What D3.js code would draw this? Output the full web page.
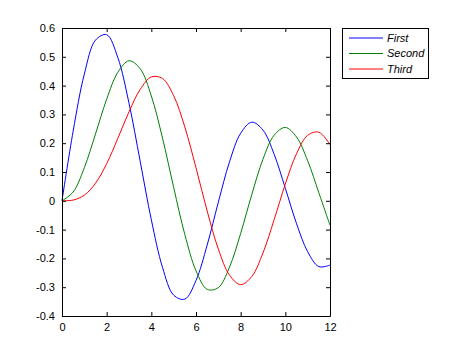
<!DOCTYPE html>
<html><head><meta charset="utf-8">
<script src="https://cdn.jsdelivr.net/npm/d3@7"></script>
<style>body{margin:0;background:#fff}svg{display:block}</style>
</head><body>
<script>
const xs = [0,0.5,1,1.5,2,2.5,3,3.5,4,4.5,5,5.5,6,6.5,7,7.5,8,8.5,9,9.5,10,10.5,11,11.5,12];
const first = [0,0.2423,0.4401,0.5579,0.5767,0.4971,0.3391,0.1374,-0.0660,-0.2311,-0.3276,-0.3414,-0.2767,-0.1538,-0.0047,0.1352,0.2346,0.2731,0.2453,0.1613,0.0435,-0.0789,-0.1768,-0.2284,-0.2234];
const second = [0,0.0306,0.1149,0.2321,0.3528,0.4461,0.4862,0.4586,0.3641,0.2178,0.0466,-0.1173,-0.2429,-0.3074,-0.3014,-0.2303,-0.1130,0.0223,0.1448,0.2279,0.2546,0.2216,0.1391,0.0280,-0.0849];
const third = [0,0.0026,0.0196,0.0610,0.1289,0.2167,0.3091,0.3867,0.4301,0.4247,0.3649,0.2561,0.1148,-0.0354,-0.1675,-0.2580,-0.2911,-0.2626,-0.1809,-0.0653,0.0583,0.1633,0.2274,0.2381,0.1951];
const seriesNames = ["First","Second","Third"];
const seriesColors = ["#0000ff","#008000","#ff0000"];
const xTicks = [0,2,4,6,8,10,12];
const yTicks = [-0.4,-0.3,-0.2,-0.1,0,0.1,0.2,0.3,0.4,0.5,0.6];

const W=474,H=355, L=62,R=330,T=28,B=316;
const svg=d3.select("body").append("svg").attr("width",W).attr("height",H);
const x=d3.scaleLinear().domain([0,12]).range([L,R]);
const y=d3.scaleLinear().domain([-0.4,0.6]).range([B,T]);
const font="Arial, 'Liberation Sans', sans-serif";

const series=[first,second,third];
const line=d3.line().x((d,i)=>x(xs[i])).y(d=>y(d)).curve(d3.curveCatmullRom.alpha(0.5));
series.forEach((s,k)=>{
  svg.append("path").attr("d",line(s)).attr("fill","none").attr("stroke",seriesColors[k]).attr("stroke-width",1);
});

// axes
const fmtY=d=>d===0?"0":d.toFixed(1);
const gB=svg.append("g").attr("transform",`translate(0,${B})`).call(d3.axisBottom(x).tickValues(xTicks).tickSizeInner(-4).tickSizeOuter(0).tickPadding(7));
const gT=svg.append("g").attr("transform",`translate(0,${T})`).call(d3.axisTop(x).tickValues(xTicks).tickSizeInner(-4).tickSizeOuter(0).tickFormat(""));
const gL=svg.append("g").attr("transform",`translate(${L},0)`).call(d3.axisLeft(y).tickValues(yTicks).tickFormat(fmtY).tickSizeInner(-4).tickSizeOuter(0).tickPadding(7));
const gR=svg.append("g").attr("transform",`translate(${R},0)`).call(d3.axisRight(y).tickValues(yTicks).tickSizeInner(-4).tickSizeOuter(0).tickFormat(""));
[gB,gT,gL,gR].forEach(g=>{
  g.selectAll("path,line").attr("stroke","#000");
  g.selectAll("text").attr("font-family",font).attr("font-size",11).attr("fill","#000");
});
gB.selectAll("text").attr("dy","0.71em");

// legend
const lg=svg.append("g");
lg.append("rect").attr("x",342.5).attr("y",28.5).attr("width",86).attr("height",50).attr("fill","#fff").attr("stroke","#000");
seriesNames.forEach((n,k)=>{
  const yy=38+k*15.5;
  lg.append("line").attr("x1",349).attr("x2",383).attr("y1",yy).attr("y2",yy).attr("stroke",seriesColors[k]);
  lg.append("text").attr("x",387).attr("y",yy).attr("dy","0.35em").attr("font-family",font).attr("font-size",11).attr("font-style","italic").attr("fill","#000").text(n);
});
</script>
</body></html>
